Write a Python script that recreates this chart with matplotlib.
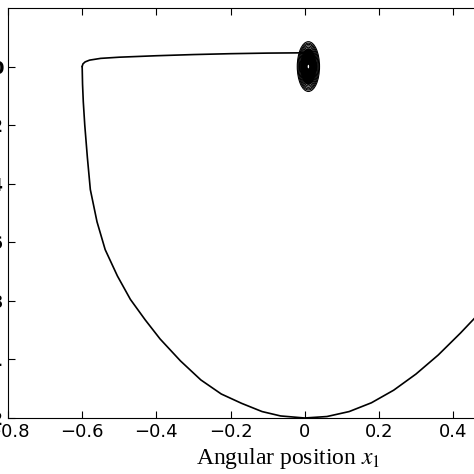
import matplotlib
matplotlib.use('Agg')
import matplotlib.pyplot as plt
from matplotlib.patches import Ellipse

# trajectory (angular position x1, angular velocity x2)
top_x = [0.02, 0.0, -0.1, -0.2, -0.3, -0.4, -0.5, -0.55, -0.58, -0.592, -0.598, -0.6]
top_y = [0.046, 0.047, 0.046, 0.044, 0.041, 0.037, 0.032, 0.028, 0.022, 0.016, 0.009, 0.0]
low_x = [-0.6, -0.599, -0.597, -0.593, -0.586, -0.578, -0.56, -0.538, -0.505, -0.47,
         -0.43, -0.39, -0.335, -0.28, -0.225, -0.17, -0.115, -0.065, 0.0,
         0.06, 0.12, 0.18, 0.24, 0.3, 0.36, 0.42, 0.48]
low_y = [0.0, -0.06, -0.12, -0.2, -0.31, -0.42, -0.53, -0.625, -0.715, -0.795,
         -0.865, -0.93, -1.005, -1.07, -1.118, -1.15, -1.178, -1.193, -1.2,
         -1.195, -1.178, -1.148, -1.105, -1.05, -0.985, -0.91, -0.83]
# decaying spiral near the origin, drawn as rings (half widths, half heights)
ring_w = [0.030, 0.028, 0.026, 0.024, 0.022, 0.020]
ring_h = [0.085, 0.080, 0.076, 0.071, 0.066, 0.060]
spiral_center = (0.01, 0.0)
xticks = [-0.8, -0.6, -0.4, -0.2, 0, 0.2, 0.4, 0.6]
yticks = [0, -0.2, -0.4, -0.6, -0.8, -1.0, -1.2]

plt.rcParams['mathtext.fontset'] = 'stix'
fig = plt.figure(figsize=(4.74, 4.74), dpi=100)
ax = fig.add_axes([8 / 474, 56 / 474, 560 / 474, 410 / 474])

ax.plot(top_x, top_y, color='k', linewidth=1.2)
ax.plot(low_x, low_y, color='k', linewidth=1.2)
for w, h in zip(ring_w, ring_h):
    ax.add_patch(Ellipse(spiral_center, 2 * w, 2 * h, fill=False, edgecolor='k', linewidth=0.8))
ax.add_patch(Ellipse(spiral_center, 2 * ring_w[-1], 2 * ring_h[-1], facecolor='k', edgecolor='k'))
ax.add_patch(Ellipse(spiral_center, 0.004, 0.012, facecolor='w', edgecolor='none'))

ax.set_xlim(-0.8, 0.71)
ax.set_ylim(-1.2, 0.2)
ax.set_xticks(xticks)
ax.set_xticklabels(['\u22120.8', '\u22120.6', '\u22120.4', '\u22120.2', '0', '0.2', '0.4', '0.6'],
                   family='DejaVu Sans', fontsize=13)
ax.set_yticks(yticks)
ax.set_yticklabels(['0', '\u22120.2', '\u22120.4', '\u22120.6', '\u22120.8', '\u22121', '\u22121.2'],
                   family='DejaVu Sans', fontsize=13, fontweight='bold')
ax.tick_params(direction='in', length=5, top=True, right=True)
ax.set_xlabel('Angular position $x_1$', fontsize=17, family='Liberation Serif')

fig.savefig('out.png', dpi=100)
